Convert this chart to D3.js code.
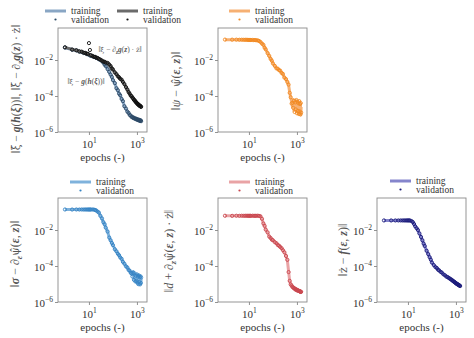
<!DOCTYPE html>
<html>
<head>
<meta charset="utf-8">
<script src="https://cdn.jsdelivr.net/npm/d3@7"></script>
<style>
  body { margin: 0; background: #fff; }
  svg { display: block; }
</style>
</head>
<body>
<svg id="chart" width="474" height="338"></svg>
<script>
// shared epoch grid of the logged losses
const epochs = [1, 2, 3, 4, 5, 6, 7, 8, 9, 10, 11, 12, 14, 16, 18, 20, 23, 26, 30, 35, 40, 45, 50,
  60, 70, 80, 90, 100, 120, 140, 160, 180, 200, 230, 260, 300, 350, 400, 450, 500,
  550, 600, 650, 700, 750, 800, 850, 900, 950, 1000, 1050, 1100, 1150, 1200, 1250, 1300, 1350, 1400, 1450, 1500];

// ||xi - g(h(xi))||
const xiRecTrain = [4.8e-2, 3.8e-2, 3.3e-2, 3.0e-2, 2.75e-2, 2.5e-2, 2.35e-2, 2.2e-2, 2.1e-2, 1.9e-2, 1.8e-2, 1.75e-2,
  1.6e-2, 1.5e-2, 1.4e-2, 1.3e-2, 1.2e-2, 1.1e-2, 1.0e-2, 8.7e-3, 7.1e-3, 5.6e-3, 4.5e-3, 3.2e-3, 2.1e-3, 1.6e-3,
  1.1e-3, 7.9e-4, 5.0e-4, 2.8e-4, 2.0e-4, 1.4e-4, 1.07e-4, 7.1e-5, 5.0e-5, 2.8e-5, 1.9e-5, 1.4e-5, 1.1e-5, 9.1e-6,
  7.9e-6, 7.1e-6, 6.6e-6, 6.3e-6, 6.0e-6, 5.75e-6, 5.5e-6, 5.4e-6, 5.25e-6, 5.0e-6, 4.9e-6, 4.8e-6, 4.7e-6, 4.6e-6,
  4.5e-6, 4.4e-6, 4.4e-6, 4.3e-6, 4.2e-6, 4.2e-6];
const xiRecVal = [4.9e-2, 3.7e-2, 3.4e-2, 2.9e-2, 2.8e-2, 2.45e-2, 2.4e-2, 2.15e-2, 2.1e-2, 1.95e-2, 1.8e-2, 1.7e-2,
  1.6e-2, 1.5e-2, 1.45e-2, 1.3e-2, 1.25e-2, 1.1e-2, 1.0e-2, 8.5e-3, 7.2e-3, 5.5e-3, 4.6e-3, 3.1e-3, 2.2e-3, 1.55e-3,
  1.15e-3, 7.6e-4, 5.2e-4, 2.7e-4, 2.1e-4, 1.35e-4, 1.1e-4, 6.8e-5, 5.2e-5, 2.7e-5, 2.0e-5, 1.35e-5, 1.15e-5, 8.8e-6,
  8.2e-6, 6.8e-6, 6.9e-6, 6.0e-6, 6.2e-6, 5.5e-6, 5.7e-6, 5.2e-6, 5.4e-6, 4.8e-6, 5.1e-6, 4.6e-6, 4.9e-6, 4.4e-6,
  4.7e-6, 4.2e-6, 4.5e-6, 4.1e-6, 4.4e-6, 4.0e-6];

// ||xi_dot - dg/dz(z) z_dot||
const xiDynTrain = [5.0e-2, 3.9e-2, 3.4e-2, 3.1e-2, 2.85e-2, 2.6e-2, 2.45e-2, 2.3e-2, 2.2e-2, 2.0e-2, 1.9e-2, 1.8e-2,
  1.65e-2, 1.55e-2, 1.45e-2, 1.35e-2, 1.25e-2, 1.15e-2, 1.05e-2, 9.1e-3, 8.3e-3, 7.8e-3, 7.4e-3, 6.8e-3, 5.75e-3, 4.5e-3,
  3.5e-3, 2.95e-3, 2.1e-3, 1.6e-3, 1.3e-3, 1.07e-3, 9.3e-4, 7.9e-4, 6.3e-4, 4.5e-4, 3.2e-4, 2.2e-4, 1.7e-4, 1.3e-4,
  1.1e-4, 9.5e-5, 8.3e-5, 7.1e-5, 6.3e-5, 5.75e-5, 5.0e-5, 4.8e-5, 4.3e-5, 4.0e-5, 3.7e-5, 3.55e-5, 3.3e-5, 3.2e-5,
  3.0e-5, 2.9e-5, 2.8e-5, 2.7e-5, 2.6e-5, 2.5e-5];
const xiDynVal = [5.1e-2, 3.8e-2, 3.5e-2, 3.0e-2, 2.9e-2, 2.55e-2, 2.5e-2, 2.25e-2, 2.2e-2, 8.7e-2, 3.6e-2, 1.85e-2,
  1.7e-2, 1.5e-2, 1.5e-2, 1.35e-2, 1.3e-2, 1.15e-2, 1.05e-2, 9.3e-3, 8.1e-3, 8.0e-3, 7.2e-3, 6.9e-3, 5.6e-3, 4.6e-3,
  3.4e-3, 3.0e-3, 2.05e-3, 1.65e-3, 1.25e-3, 1.1e-3, 9.0e-4, 8.1e-4, 6.1e-4, 4.6e-4, 3.1e-4, 2.3e-4, 1.65e-4, 1.35e-4,
  1.05e-4, 9.8e-5, 8.0e-5, 7.3e-5, 6.1e-5, 5.9e-5, 4.9e-5, 4.9e-5, 4.2e-5, 4.1e-5, 3.6e-5, 3.6e-5, 3.2e-5, 3.3e-5,
  2.9e-5, 3.0e-5, 2.75e-5, 2.75e-5, 2.55e-5, 2.5e-5];

// ||psi - psi_hat(eps, z)||
const psiTrain = [1.35e-1, 1.35e-1, 1.34e-1, 1.34e-1, 1.33e-1, 1.33e-1, 1.32e-1, 1.32e-1, 1.31e-1, 1.31e-1, 1.3e-1, 1.3e-1,
  1.29e-1, 1.28e-1, 1.27e-1, 1.26e-1, 1.23e-1, 1.17e-1, 1.0e-1, 8.3e-2, 6.8e-2, 5.0e-2, 3.8e-2, 2.5e-2, 1.66e-2, 1.2e-2,
  8.9e-3, 6.6e-3, 4.5e-3, 3.55e-3, 3.16e-3, 2.8e-3, 2.5e-3, 2.0e-3, 1.6e-3, 1.1e-3, 8.3e-4, 6.3e-4, 4.0e-4, 1.6e-4,
  7.9e-5, 5.0e-5, 2.5e-5, 6.3e-5, 1.6e-5, 5.0e-5, 2.0e-5, 5.6e-5, 1.4e-5, 4.0e-5, 1.26e-5, 5.0e-5, 1.8e-5, 3.5e-5,
  1.0e-5, 4.5e-5, 1.26e-5, 3.2e-5, 8.9e-6, 2.5e-5];
const psiVal = [1.36e-1, 1.35e-1, 1.35e-1, 1.33e-1, 1.34e-1, 1.32e-1, 1.33e-1, 1.31e-1, 1.32e-1, 1.3e-1, 1.31e-1, 1.29e-1,
  1.3e-1, 1.27e-1, 1.28e-1, 1.25e-1, 1.24e-1, 1.15e-1, 1.02e-1, 8.1e-2, 7.0e-2, 4.8e-2, 3.9e-2, 2.4e-2, 1.7e-2, 1.15e-2,
  9.2e-3, 6.4e-3, 4.7e-3, 3.4e-3, 3.3e-3, 2.7e-3, 2.6e-3, 1.9e-3, 1.7e-3, 1.05e-3, 8.7e-4, 6.0e-4, 4.3e-4, 1.5e-4,
  8.5e-5, 3.8e-5, 4.2e-5, 2.2e-5, 5.5e-5, 1.3e-5, 4.4e-5, 1.8e-5, 6.0e-5, 1.1e-5, 4.8e-5, 1.5e-5, 3.9e-5, 1.0e-5,
  5.2e-5, 1.4e-5, 3.6e-5, 9.5e-6, 4.0e-5, 1.2e-5];

// ||sigma - d psi_hat / d eps||
const sigmaTrain = [1.38e-1, 1.38e-1, 1.38e-1, 1.38e-1, 1.38e-1, 1.38e-1, 1.38e-1, 1.38e-1, 1.38e-1, 1.38e-1, 1.38e-1, 1.38e-1,
  1.38e-1, 1.38e-1, 1.32e-1, 1.2e-1, 1.07e-1, 9.1e-2, 6.3e-2, 4.2e-2, 2.8e-2, 2.0e-2, 1.4e-2, 7.9e-3, 4.0e-3, 2.6e-3,
  2.0e-3, 1.4e-3, 8.9e-4, 6.3e-4, 5.0e-4, 3.8e-4, 3.2e-4, 2.4e-4, 1.8e-4, 1.3e-4, 1.0e-4, 7.9e-5, 6.3e-5, 5.2e-5,
  4.5e-5, 3.5e-5, 3.2e-5, 5.0e-5, 2.0e-5, 3.5e-5, 1.6e-5, 3.2e-5, 1.26e-5, 2.8e-5, 1.1e-5, 3.2e-5, 1.4e-5, 2.5e-5,
  1.0e-5, 2.8e-5, 1.26e-5, 2.2e-5, 1.0e-5, 2.0e-5];
const sigmaVal = [1.38e-1, 1.37e-1, 1.38e-1, 1.37e-1, 1.38e-1, 1.37e-1, 1.38e-1, 1.37e-1, 1.38e-1, 1.37e-1, 1.38e-1, 1.37e-1,
  1.38e-1, 1.36e-1, 1.3e-1, 1.22e-1, 1.05e-1, 9.3e-2, 6.1e-2, 4.4e-2, 2.7e-2, 2.1e-2, 1.35e-2, 8.2e-3, 3.8e-3, 2.7e-3,
  1.9e-3, 1.45e-3, 8.5e-4, 6.6e-4, 4.8e-4, 4.0e-4, 3.0e-4, 2.5e-4, 1.7e-4, 1.35e-4, 9.5e-5, 8.3e-5, 6.0e-5, 5.5e-5,
  4.2e-5, 3.8e-5, 2.6e-5, 4.2e-5, 1.7e-5, 3.9e-5, 1.4e-5, 2.9e-5, 1.5e-5, 3.4e-5, 1.2e-5, 2.6e-5, 9.8e-6, 3.0e-5,
  1.3e-5, 2.4e-5, 9.5e-6, 2.7e-5, 1.15e-5, 2.3e-5];

// ||d + d psi_hat / dz . z_dot||
const dissTrain = [6.2e-2, 6.2e-2, 6.2e-2, 6.2e-2, 6.2e-2, 6.2e-2, 6.2e-2, 6.2e-2, 6.2e-2, 6.2e-2, 6.2e-2, 6.2e-2,
  6.2e-2, 6.2e-2, 6.2e-2, 6.2e-2, 6.2e-2, 6.2e-2, 6.0e-2, 4.0e-2, 2.4e-2, 1.6e-2, 1.1e-2, 7.1e-3, 4.5e-3, 3.5e-3,
  3.0e-3, 2.6e-3, 2.2e-3, 1.8e-3, 1.5e-3, 1.3e-3, 1.2e-3, 9.5e-4, 7.9e-4, 5.6e-4, 3.8e-4, 2.0e-4, 5.0e-5, 1.4e-5,
  1.0e-5, 7.9e-6, 7.1e-6, 6.3e-6, 5.9e-6, 5.6e-6, 5.25e-6, 5.0e-6, 4.8e-6, 4.6e-6, 4.5e-6, 4.3e-6, 4.4e-6, 4.0e-6,
  4.2e-6, 3.8e-6, 4.0e-6, 3.6e-6, 3.8e-6, 3.5e-6];
const dissVal = [6.2e-2, 6.1e-2, 6.2e-2, 6.1e-2, 6.2e-2, 6.1e-2, 6.2e-2, 6.1e-2, 6.2e-2, 6.1e-2, 6.2e-2, 6.1e-2,
  6.2e-2, 6.1e-2, 6.2e-2, 6.1e-2, 6.2e-2, 6.1e-2, 5.8e-2, 4.2e-2, 2.3e-2, 1.7e-2, 1.05e-2, 7.4e-3, 4.3e-3, 3.6e-3,
  2.9e-3, 2.7e-3, 2.1e-3, 1.85e-3, 1.45e-3, 1.35e-3, 1.15e-3, 9.8e-4, 7.6e-4, 5.8e-4, 3.6e-4, 2.2e-4, 4.6e-5, 1.5e-5,
  9.5e-6, 8.2e-6, 6.8e-6, 6.5e-6, 5.7e-6, 5.8e-6, 5.0e-6, 5.2e-6, 4.6e-6, 4.8e-6, 4.3e-6, 4.5e-6, 4.2e-6, 4.2e-6,
  4.0e-6, 4.0e-6, 3.8e-6, 3.8e-6, 3.6e-6, 3.7e-6];

// ||z_dot - f(eps, z)||
const evoTrain = [3.4e-2, 3.4e-2, 3.4e-2, 3.4e-2, 3.4e-2, 3.4e-2, 3.4e-2, 3.4e-2, 3.4e-2, 3.4e-2, 3.4e-2, 3.4e-2,
  3.2e-2, 2.8e-2, 2.1e-2, 1.6e-2, 1.3e-2, 1.0e-2, 6.3e-3, 4.2e-3, 2.6e-3, 1.8e-3, 1.26e-3, 7.1e-4, 4.5e-4, 3.2e-4,
  2.2e-4, 1.6e-4, 1.1e-4, 8.9e-5, 7.6e-5, 6.3e-5, 5.6e-5, 4.8e-5, 4.2e-5, 3.5e-5, 3.0e-5, 2.6e-5, 2.4e-5, 2.2e-5,
  2.0e-5, 1.86e-5, 1.74e-5, 1.6e-5, 1.5e-5, 1.4e-5, 1.3e-5, 1.26e-5, 1.17e-5, 1.1e-5, 1.07e-5, 1.02e-5, 9.8e-6, 9.3e-6,
  9.1e-6, 8.9e-6, 8.5e-6, 8.3e-6, 7.9e-6, 7.8e-6];
const evoVal = [3.4e-2, 3.4e-2, 3.4e-2, 3.4e-2, 3.4e-2, 3.4e-2, 3.4e-2, 3.4e-2, 3.4e-2, 3.4e-2, 3.4e-2, 3.4e-2,
  3.15e-2, 2.75e-2, 2.15e-2, 1.6e-2, 1.25e-2, 1.0e-2, 6.5e-3, 4.1e-3, 2.7e-3, 1.75e-3, 1.3e-3, 7.0e-4, 4.6e-4, 3.1e-4,
  2.25e-4, 1.55e-4, 1.12e-4, 8.7e-5, 7.7e-5, 6.2e-5, 5.7e-5, 4.7e-5, 4.3e-5, 3.45e-5, 3.05e-5, 2.55e-5, 2.45e-5, 2.15e-5,
  2.05e-5, 1.83e-5, 1.76e-5, 1.58e-5, 1.52e-5, 1.38e-5, 1.32e-5, 1.24e-5, 1.19e-5, 1.08e-5, 1.08e-5, 1.0e-5, 9.9e-6, 9.2e-6,
  9.2e-6, 8.8e-6, 8.6e-6, 8.2e-6, 8.0e-6, 7.7e-6];

const yTicks = [1e-6, 1e-4, 1e-2];
const yTickExp = ["−6", "−4", "−2"];
const xTicks = [10, 1000];
const xTickExp = ["1", "3"];

// Axes size (all panels share it)
const axW = 89, axH = 104;
const x = d3.scaleLog().domain([0.513, 2630]).range([0, axW]);
const y = d3.scaleLog().domain([1e-6, 0.6]).range([axH, 0]);

const svg = d3.select("#chart");
const ink = "#333";
const serif = "'Liberation Serif'";

// math label: list of [text, style]; r = roman, i = italic, b = bold italic, s = subscript, a = accented
function mathText(sel, parts, size) {
    let sub = false;
    parts.forEach(p => {
        const t = sel.append("tspan").text(p[0]);
        if (p[1] === "i") t.style("font-style", "italic");
        if (p[1] === "a") t.style("font-family", "'DejaVu Serif'").attr("font-size", size * 0.9);
        if (p[1] === "b" || p[1] === "s") t.style("font-style", "italic").style("font-weight", "bold");
        if (p[1] === "s") {
            t.attr("font-size", size * 0.7).attr("dy", size * 0.25);
            sub = true;
        } else if (sub) {
            t.attr("dy", -size * 0.25);
            sub = false;
        }
    });
}

function toPoints(vals) {
    return vals.map((v, i) => ({e: epochs[i], v: v}));
}

const line = d3.line()
    .x(d => x(d.e))
    .y(d => y(d.v));

function plotPanel(p) {
    const g = svg.append("g")
        .attr("transform", "translate(" + p.left + "," + p.top + ")");

    // y axis with 10^n labels
    const ya = g.append("g").call(d3.axisLeft(y).tickValues(yTicks).tickSize(3).tickFormat(""));
    ya.select(".domain").remove();
    ya.selectAll(".tick line").attr("stroke", "#777").attr("stroke-width", 0.8);
    ya.selectAll(".tick text").remove();
    ya.selectAll(".tick").append("text")
        .attr("x", -5)
        .attr("dy", "0.38em")
        .attr("text-anchor", "end")
        .attr("font-size", 11)
        .attr("fill", ink)
        .each(function (d, i) {
            const t = d3.select(this);
            t.append("tspan").text("10");
            t.append("tspan").attr("dy", -5).attr("font-size", 7.5).text(yTickExp[i]);
        });

    // x axis
    const xa = g.append("g")
        .attr("transform", "translate(0," + axH + ")")
        .call(d3.axisBottom(x).tickValues(xTicks).tickSize(3).tickFormat(""));
    xa.select(".domain").remove();
    xa.selectAll(".tick line").attr("stroke", "#777").attr("stroke-width", 0.8);
    xa.selectAll(".tick text").remove();
    xa.selectAll(".tick").append("text")
        .attr("y", 16)
        .attr("text-anchor", "middle")
        .attr("font-size", 11)
        .attr("fill", ink)
        .each(function (d, i) {
            const t = d3.select(this);
            t.append("tspan").text("10");
            t.append("tspan").attr("dy", -5).attr("font-size", 7.5).text(xTickExp[i]);
        });

    g.append("text")
        .attr("x", axW / 2)
        .attr("y", axH + 29)
        .attr("text-anchor", "middle")
        .attr("font-size", 11)
        .attr("fill", ink)
        .text("epochs (-)");

    // curves: training line, validation markers on top
    p.series.forEach(s => {
        g.append("path")
            .datum(toPoints(s.train))
            .attr("d", line)
            .attr("fill", "none")
            .attr("stroke", s.lineColor)
            .attr("stroke-width", 3)
            .attr("stroke-linejoin", "round");
        g.selectAll(null)
            .data(toPoints(s.val))
            .join("circle")
            .attr("cx", d => x(d.e))
            .attr("cy", d => y(d.v))
            .attr("r", 1.6)
            .attr("fill", "none")
            .attr("stroke", s.markColor)
            .attr("stroke-width", 0.9);
    });

    g.append("rect")
        .attr("width", axW)
        .attr("height", axH)
        .attr("fill", "none")
        .attr("stroke", "#8a8a8a")
        .attr("stroke-width", 0.9);

    // y label
    const lab = svg.append("text")
        .attr("transform", "translate(" + p.labelX + "," + p.labelY + ") rotate(-90)")
        .attr("text-anchor", "middle")
        .attr("font-size", p.labelSize)
        .attr("fill", "#555");
    mathText(lab, p.label, p.labelSize);

    // legends
    p.series.forEach((s, i) => {
        const lg = svg.append("g")
            .attr("transform", "translate(" + p.legend[i][0] + "," + p.legend[i][1] + ")");
        lg.append("line")
            .attr("x1", 0).attr("x2", 21)
            .attr("stroke", s.lineColor)
            .attr("stroke-width", 3);
        lg.append("text").attr("x", 26).attr("y", 3.2).attr("font-size", 9.5).attr("fill", ink).text("training");
        lg.append("circle").attr("cx", 10.5).attr("cy", 8.5).attr("r", 1.1).attr("fill", s.markColor);
        lg.append("text").attr("x", 26).attr("y", 11.7).attr("font-size", 9.5).attr("fill", ink).text("validation");
    });
    return g;
}

const g1 = plotPanel({
    left: 58, top: 28, labelX: 20, labelY: 89, labelSize: 11.5,
    legend: [[45, 11], [117, 11]],
    series: [
        {train: xiRecTrain, val: xiRecVal, lineColor: "#89a6c4", markColor: "#2c4a66"},
        {train: xiDynTrain, val: xiDynVal, lineColor: "#6b6b6b", markColor: "#111111"}
    ],
    label: [["‖", "r"], ["ξ̇", "a"], [" − ", "r"], ["g", "b"], ["(", "r"], ["h", "b"], ["(", "r"], ["ξ", "b"], ["))", "r"],
        ["‖, ‖", "r"], ["ξ̇", "a"], [" − ∂", "r"], ["z", "s"], ["g", "b"], ["(", "r"], ["z", "b"], [") · ", "r"], ["ż", "a"], ["‖", "r"]]
});

// curve annotations inside the first panel
const ann1 = g1.append("text").attr("x", 28).attr("y", 56).attr("text-anchor", "middle")
    .attr("font-size", 7.5).attr("fill", "#555");
mathText(ann1, [["‖", "r"], ["ξ̇", "a"], [" − ", "r"], ["g", "b"], ["(", "r"], ["h", "b"], ["(", "r"], ["ξ", "b"], ["))", "r"], ["‖", "r"]], 7.5);
const ann2 = g1.append("text").attr("x", 62).attr("y", 24).attr("text-anchor", "middle")
    .attr("font-size", 7.5).attr("fill", "#555");
mathText(ann2, [["‖", "r"], ["ξ̇", "a"], [" − ∂", "r"], ["z", "s"], ["g", "b"], ["(", "r"], ["z", "b"], [") · ", "r"], ["ż", "a"], ["‖", "r"]], 7.5);

plotPanel({
    left: 218, top: 28, labelX: 180, labelY: 81, labelSize: 12,
    legend: [[229, 11]],
    series: [{train: psiTrain, val: psiVal, lineColor: "#f6b073", markColor: "#f28a22"}],
    label: [["‖", "r"], ["ψ", "i"], [" − ", "r"], ["ψ̂", "a"], ["(", "r"], ["ε", "b"], [", ", "r"], ["z", "b"], [")‖", "r"]]
});

plotPanel({
    left: 58, top: 198, labelX: 19, labelY: 254, labelSize: 12,
    legend: [[70, 182]],
    series: [{train: sigmaTrain, val: sigmaVal, lineColor: "#7fb2dc", markColor: "#3583c4"}],
    label: [["‖", "r"], ["σ", "b"], [" − ∂", "r"], ["ε", "s"], ["ψ̂", "a"], ["(", "r"], ["ε", "b"], [", ", "r"], ["z", "b"], [")‖", "r"]]
});

plotPanel({
    left: 218, top: 198, labelX: 173, labelY: 251, labelSize: 12,
    legend: [[229, 182]],
    series: [{train: dissTrain, val: dissVal, lineColor: "#e9a3a5", markColor: "#c9474f"}],
    label: [["‖", "r"], ["d", "i"], [" + ∂", "r"], ["z", "s"], ["ψ̂", "a"], ["(", "r"], ["ε", "b"], [", ", "r"], ["z", "b"], [") · ", "r"], ["ż", "a"], ["‖", "r"]]
});

plotPanel({
    left: 377, top: 198, labelX: 347, labelY: 250, labelSize: 12,
    legend: [[390, 181]],
    series: [{train: evoTrain, val: evoVal, lineColor: "#8585cc", markColor: "#1c1c7a"}],
    label: [["‖", "r"], ["ż", "a"], [" − ", "r"], ["f", "b"], ["(", "r"], ["ε", "b"], [", ", "r"], ["z", "b"], [")‖", "r"]]
});

// serif face for every text element
svg.selectAll("text").style("font-family", serif);
</script>
</body>
</html>
